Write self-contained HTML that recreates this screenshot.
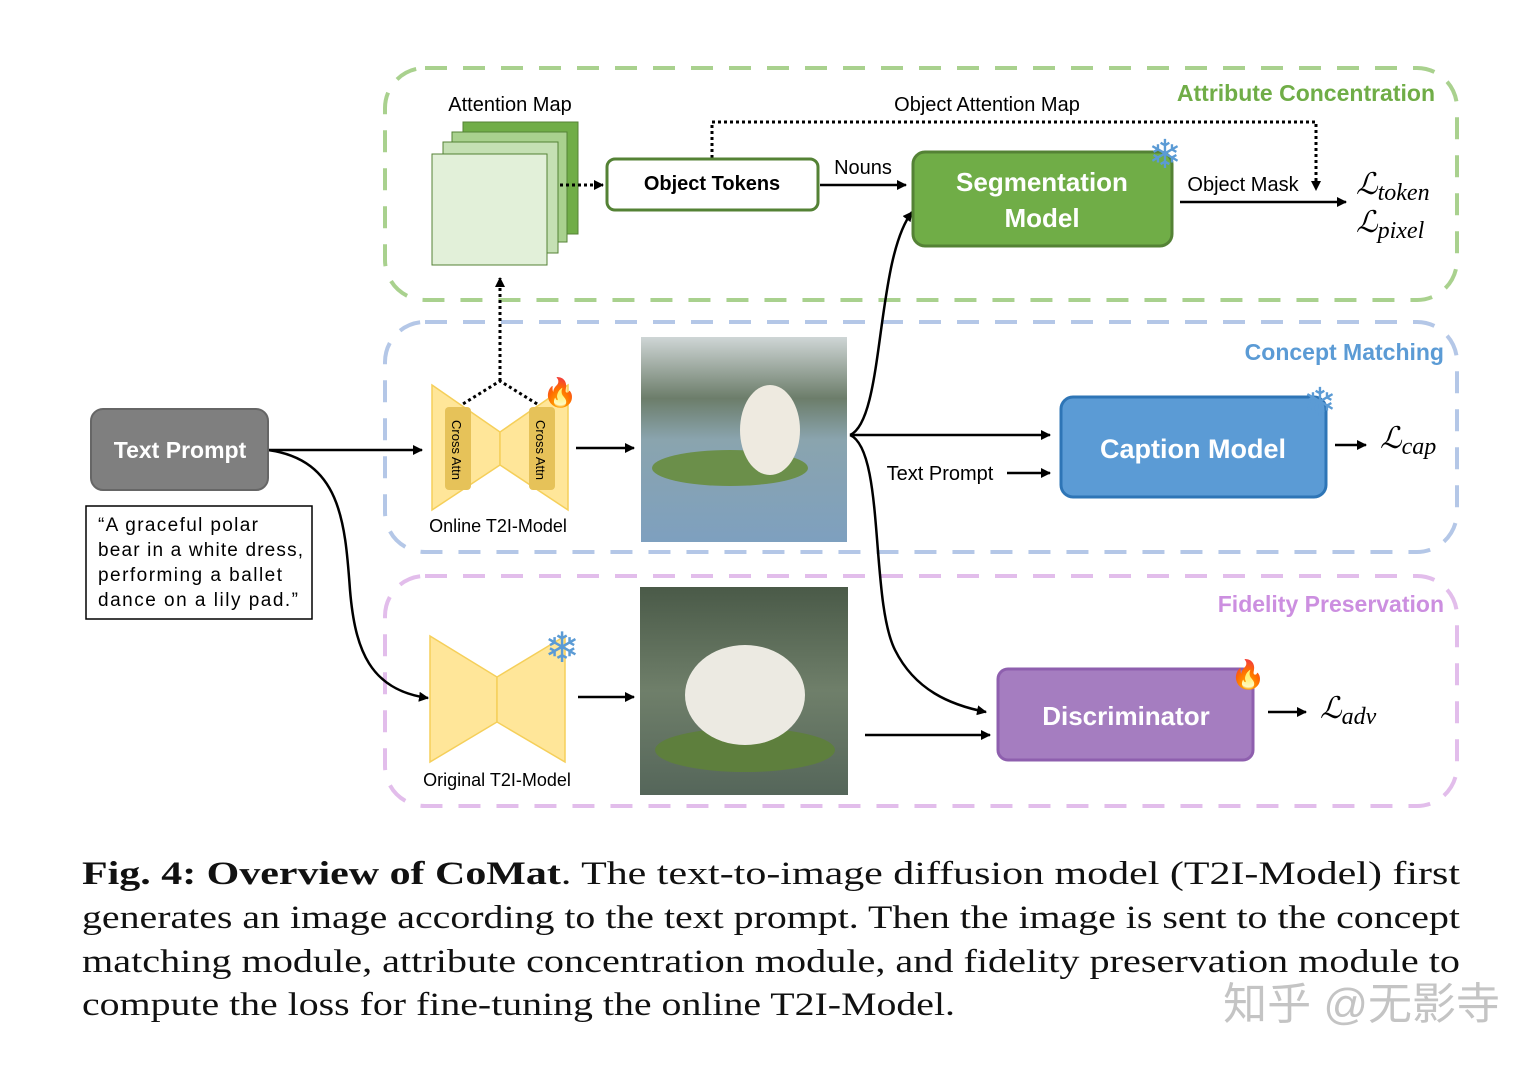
<!DOCTYPE html>
<html><head><meta charset="utf-8"><style>
body{margin:0;background:#fff;width:1538px;height:1066px;overflow:hidden}
svg{display:block}
.sans{font-family:"Liberation Sans","DejaVu Sans",sans-serif}
</style></head><body>
<svg width="1538" height="1066" viewBox="0 0 1538 1066">
<defs>
<marker id="a" markerWidth="10" markerHeight="10" refX="9" refY="5" orient="auto" markerUnits="userSpaceOnUse"><path d="M0,0 L10,5 L0,10z" fill="#000"/></marker>
<linearGradient id="g1" x1="0" y1="0" x2="0" y2="1"><stop offset="0" stop-color="#cfd6d6"/><stop offset=".3" stop-color="#6c7d6a"/><stop offset=".5" stop-color="#8aa4ae"/><stop offset="1" stop-color="#7ea0bf"/></linearGradient>
<linearGradient id="g2" x1="0" y1="0" x2="0" y2="1"><stop offset="0" stop-color="#4a5a48"/><stop offset=".5" stop-color="#6f7f6a"/><stop offset="1" stop-color="#55665a"/></linearGradient>
</defs>
<g fill="none" stroke-width="4" stroke-dasharray="22 16">
<rect x="385" y="68" width="1072" height="232" rx="40" stroke="#a9d18e"/>
<rect x="385" y="322" width="1072" height="230" rx="40" stroke="#b4c7e7"/>
<rect x="385" y="576" width="1072" height="230" rx="40" stroke="#e2bdeb"/>
</g>
<g class="sans" font-weight="bold" font-size="23" text-anchor="end">
<text x="1435" y="101" fill="#70ad47">Attribute Concentration</text>
<text x="1444" y="360" fill="#5b9bd5">Concept Matching</text>
<text x="1444" y="612" fill="#cc8fe0">Fidelity Preservation</text>
</g>
<text x="510" y="111" class="sans" font-size="20" text-anchor="middle">Attention Map</text>
<rect x="463" y="122" width="115" height="112" fill="#70ad47" stroke="#548235"/>
<rect x="452" y="132" width="115" height="110" fill="#a9d18e" stroke="#548235"/>
<rect x="443" y="142" width="115" height="111" fill="#c5e0b4" stroke="#548235"/>
<rect x="432" y="154" width="115" height="111" fill="#e2f0d9" stroke="#548235"/>
<g stroke="#000" stroke-width="3" stroke-dasharray="3 3" fill="none">
<line x1="560" y1="185" x2="603" y2="185" marker-end="url(#a)"/>
<polyline points="712,158 712,122 1316,122 1316,190" marker-end="url(#a)"/>
<polyline points="458,407 500,381 542,407"/>
<line x1="500" y1="381" x2="500" y2="278" marker-end="url(#a)"/>
</g>
<text x="987" y="111" class="sans" font-size="20" text-anchor="middle">Object Attention Map</text>
<rect x="607" y="159" width="211" height="51" rx="8" fill="#fff" stroke="#548235" stroke-width="3"/>
<text x="712" y="190" class="sans" font-weight="bold" font-size="20" text-anchor="middle">Object Tokens</text>
<text x="863" y="174" class="sans" font-size="20" text-anchor="middle">Nouns</text>
<g stroke="#000" stroke-width="2.5" fill="none">
<line x1="820" y1="185" x2="906" y2="185" marker-end="url(#a)"/>
<line x1="1180" y1="202" x2="1346" y2="202" marker-end="url(#a)"/>
<line x1="268" y1="450" x2="422" y2="450" marker-end="url(#a)"/>
<path d="M268,450 C340,460 345,520 350,590 C355,650 370,690 428,698" marker-end="url(#a)"/>
<line x1="576" y1="448" x2="634" y2="448" marker-end="url(#a)"/>
<line x1="578" y1="697" x2="634" y2="697" marker-end="url(#a)"/>
<path d="M850,435 C885,420 875,260 912,212" marker-end="url(#a)"/>
<line x1="852" y1="435" x2="1050" y2="435" marker-end="url(#a)"/>
<line x1="1007" y1="473" x2="1050" y2="473" marker-end="url(#a)"/>
<path d="M850,435 C885,450 870,600 895,650 C915,690 950,705 986,712" marker-end="url(#a)"/>
<line x1="865" y1="735" x2="990" y2="735" marker-end="url(#a)"/>
<line x1="1335" y1="445" x2="1366" y2="445" marker-end="url(#a)"/>
<line x1="1268" y1="712" x2="1306" y2="712" marker-end="url(#a)"/>
</g>
<rect x="913" y="152" width="259" height="94" rx="12" fill="#70ad47" stroke="#548235" stroke-width="3"/>
<text x="1042" y="191" class="sans" font-weight="bold" font-size="26" fill="#fff" text-anchor="middle">Segmentation</text>
<text x="1042" y="227" class="sans" font-weight="bold" font-size="26" fill="#fff" text-anchor="middle">Model</text>
<text x="1165" y="168" font-size="40" fill="#5b9bd5" text-anchor="middle" font-family="DejaVu Sans">❄</text>
<text x="1243" y="191" class="sans" font-size="20" text-anchor="middle">Object Mask</text>
<g font-family="'Liberation Serif',serif" font-style="italic" font-size="30">
<text x="1356" y="194">ℒ<tspan font-size="24" dy="6">token</tspan></text>
<text x="1356" y="232">ℒ<tspan font-size="24" dy="6">pixel</tspan></text>
<text x="1380" y="448">ℒ<tspan font-size="24" dy="6">cap</tspan></text>
<text x="1320" y="718">ℒ<tspan font-size="24" dy="6">adv</tspan></text>
</g>
<rect x="91" y="409" width="177" height="81" rx="12" fill="#7f7f7f" stroke="#666" stroke-width="2"/>
<text x="180" y="458" class="sans" font-weight="bold" font-size="23" fill="#fff" text-anchor="middle">Text Prompt</text>
<rect x="86" y="506" width="226" height="113" fill="#fff" stroke="#000" stroke-width="1.5"/>
<g class="sans" font-size="19">
<text x="98" y="531" textLength="160">“A graceful polar</text>
<text x="98" y="556" textLength="205">bear in a white dress,</text>
<text x="98" y="581" textLength="184">performing a ballet</text>
<text x="98" y="606" textLength="200">dance on a lily pad.”</text>
</g>
<g fill="#ffe699" stroke="#f5cf5a" stroke-width="1.5">
<polygon points="432,385 500,432 500,465 432,510"/>
<polygon points="568,385 500,432 500,465 568,510"/>
<polygon points="430,636 497,677 497,722 430,762"/>
<polygon points="565,636 497,677 497,722 565,762"/>
</g>
<rect x="445" y="407" width="26" height="83" rx="4" fill="#e6c259"/>
<rect x="529" y="407" width="26" height="83" rx="4" fill="#e6c259"/>
<text transform="translate(452,420) rotate(90)" class="sans" font-size="13">Cross Attn</text>
<text transform="translate(536,420) rotate(90)" class="sans" font-size="13">Cross Attn</text>
<text x="560" y="402" font-size="28" fill="#f46a1f" text-anchor="middle">🔥</text>
<text x="498" y="532" class="sans" font-size="18" text-anchor="middle">Online T2I-Model</text>
<text x="562" y="662" font-size="42" fill="#5b9bd5" text-anchor="middle" font-family="DejaVu Sans">❄</text>
<text x="497" y="786" class="sans" font-size="18" text-anchor="middle">Original T2I-Model</text>
<rect x="641" y="337" width="206" height="205" fill="url(#g1)"/>
<ellipse cx="730" cy="468" rx="78" ry="18" fill="#6b8f4a"/>
<ellipse cx="770" cy="430" rx="30" ry="45" fill="#eeeae0"/>
<rect x="640" y="587" width="208" height="208" fill="url(#g2)"/>
<ellipse cx="745" cy="750" rx="90" ry="22" fill="#5e7f3d"/>
<ellipse cx="745" cy="695" rx="60" ry="50" fill="#eceae2"/>
<rect x="1061" y="397" width="265" height="100" rx="12" fill="#5b9bd5" stroke="#2e75b6" stroke-width="3"/>
<text x="1193" y="458" class="sans" font-weight="bold" font-size="27" fill="#fff" text-anchor="middle">Caption Model</text>
<text x="1320" y="416" font-size="40" fill="#5b9bd5" text-anchor="middle" font-family="DejaVu Sans">❄</text>
<text x="940" y="480" class="sans" font-size="20" text-anchor="middle">Text Prompt</text>
<rect x="998" y="669" width="255" height="91" rx="10" fill="#a57dc0" stroke="#8e5fae" stroke-width="3"/>
<text x="1126" y="725" class="sans" font-weight="bold" font-size="26" fill="#fff" text-anchor="middle">Discriminator</text>
<text x="1248" y="684" font-size="28" fill="#f46a1f" text-anchor="middle">🔥</text>
<g font-family="'Liberation Serif',serif" font-size="33" fill="#111">
<text x="82" y="884" textLength="1378" lengthAdjust="spacingAndGlyphs"><tspan font-weight="bold">Fig. 4: Overview of CoMat</tspan>. The text-to-image diffusion model (T2I-Model) first</text>
<text x="82" y="928" textLength="1378" lengthAdjust="spacingAndGlyphs">generates an image according to the text prompt. Then the image is sent to the concept</text>
<text x="82" y="972" textLength="1378" lengthAdjust="spacingAndGlyphs">matching module, attribute concentration module, and fidelity preservation module to</text>
<text x="82" y="1015" textLength="873" lengthAdjust="spacingAndGlyphs">compute the loss for fine-tuning the online T2I-Model.</text>
</g>
<text x="1500" y="1019" font-family="'Liberation Sans','Noto Sans CJK SC',sans-serif" font-size="44" fill="#c4c4c4" text-anchor="end">知乎 @无影寺</text>
</svg>
</body></html>
